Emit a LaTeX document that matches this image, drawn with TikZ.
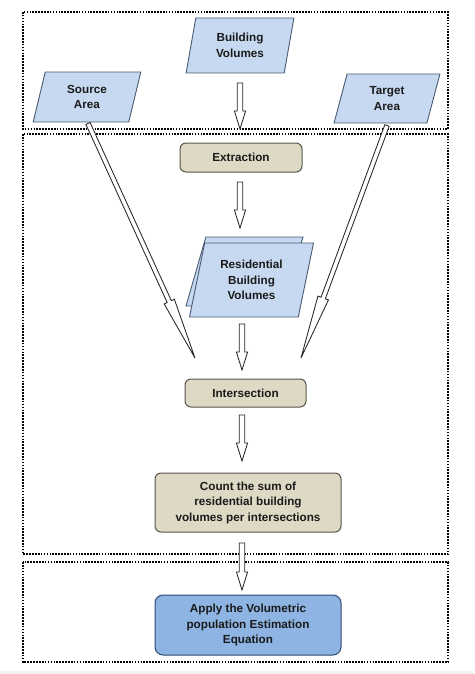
\documentclass[tikz,border=0pt]{standalone}
\usepackage{fontspec}
\setmainfont{Liberation Sans}
\usetikzlibrary{shapes.geometric,calc}
\definecolor{parafill}{HTML}{C6D9F1}
\definecolor{paradraw}{HTML}{4A5A72}
\definecolor{tanfill}{HTML}{DDD9C4}
\definecolor{tandraw}{HTML}{55554A}
\definecolor{bluefill}{HTML}{8DB4E2}
\definecolor{bluedraw}{HTML}{2F4A70}
\definecolor{txt}{HTML}{1A1A1A}
\newcommand\fatarrow[5]{%
  \coordinate (fah) at ($(#2)!#5!(#1)$);
  \draw[fatarr] ($(#1)!#3!90:(#2)$) -- ($(fah)!#3!-90:(#1)$) -- ($(fah)!#4!-90:(#1)$)
    -- (#2) -- ($(fah)!#4!90:(#1)$) -- ($(fah)!#3!90:(#1)$) -- ($(#1)!#3!-90:(#2)$) -- cycle;
}
\tikzset{
  lbl/.style={font=\fontsize{11.7}{15.5}\selectfont\bfseries, text=txt, align=center},
  para/.style={trapezium, trapezium stretches=true, draw=paradraw, fill=parafill, line width=0.9pt,
    trapezium left angle=#1, trapezium right angle=180-#1, inner sep=0pt, lbl},
  para/.default=77,
  tanbox/.style={rectangle, rounded corners=6pt, draw=tandraw, fill=tanfill, line width=1pt, lbl, inner sep=0pt},
  bluebox/.style={rectangle, rounded corners=8pt, draw=bluedraw, fill=bluefill, line width=1pt, lbl, inner sep=0pt},
  dotbox/.style={draw=black, line width=1.8pt, dash pattern=on 1.6pt off 1.3pt},
  fatarr/.style={draw=black!85, fill=white, line width=0.85pt, line join=miter},
}
\begin{document}
\begin{tikzpicture}[x=1pt,y=-1pt]
\useasboundingbox (0,0) rectangle (474,674);
\fill[gray!12] (0,671) rectangle (474,674);
% dotted group boxes
\draw[dotbox] (23,12) rectangle (448,129);
\draw[dotbox] (23,134) rectangle (448,554);
\draw[dotbox] (23,562) rectangle (448,662);
% input parallelograms
\node[para=77.7, minimum width=108pt, minimum height=55pt] (bv) at (240,45.5) {Building\\Volumes};
\node[para=76.5, minimum width=108pt, minimum height=50pt] (sa) at (87,97) {Source\\Area};
\node[para=76.5, minimum width=106pt, minimum height=49pt] (ta) at (387,98.5) {Target\\Area};
% process boxes
\node[tanbox, minimum width=122pt, minimum height=29pt] (ex) at (241,157.5) {Extraction};
\node[para=76, minimum width=117pt, minimum height=69pt] (rbb) at (244.5,271.5) {\phantom{X}};
\node[para=75.6, minimum width=125pt, minimum height=74pt] (rb) at (251.5,280) {Residential\\Building\\Volumes};
\node[tanbox, minimum width=121pt, minimum height=28pt] (in) at (245.5,393) {Intersection};
\node[tanbox, minimum width=186pt, minimum height=59pt] (cs) at (248,502.5) {Count the sum of\\residential building\\volumes per intersections};
\node[bluebox, minimum width=186pt, minimum height=60pt] (ap) at (248,625) {Apply the Volumetric\\population Estimation\\Equation};
% connector end points
\coordinate (a1s) at (240,83);  \coordinate (a1e) at (240,129);
\coordinate (a2s) at (240,182);  \coordinate (a2e) at (240,228);
\coordinate (a3s) at (242,324);  \coordinate (a3e) at (242,370);
\coordinate (a4s) at (242,415);  \coordinate (a4e) at (242,461);
\coordinate (a5s) at (242,543);  \coordinate (a5e) at (242,590);
\coordinate (l1s) at ($(sa.south)+(1,1)$);  \coordinate (l1e) at (195,358);
\coordinate (l2s) at ($(ta.south)+(0,2)$);  \coordinate (l2e) at (301,358);
% connectors
\fatarrow{a1s}{a1e}{2.8pt}{5.6pt}{18pt}
\fatarrow{a2s}{a2e}{2.8pt}{5.6pt}{18pt}
\fatarrow{a3s}{a3e}{2.8pt}{5.6pt}{18pt}
\fatarrow{a4s}{a4e}{2.8pt}{5.6pt}{18pt}
\fatarrow{a5s}{a5e}{2.8pt}{5.6pt}{18pt}
\fatarrow{l1s}{l1e}{2.3pt}{5.6pt}{62pt}
\fatarrow{l2s}{l2e}{2.3pt}{5.6pt}{64pt}
\end{tikzpicture}
\end{document}
